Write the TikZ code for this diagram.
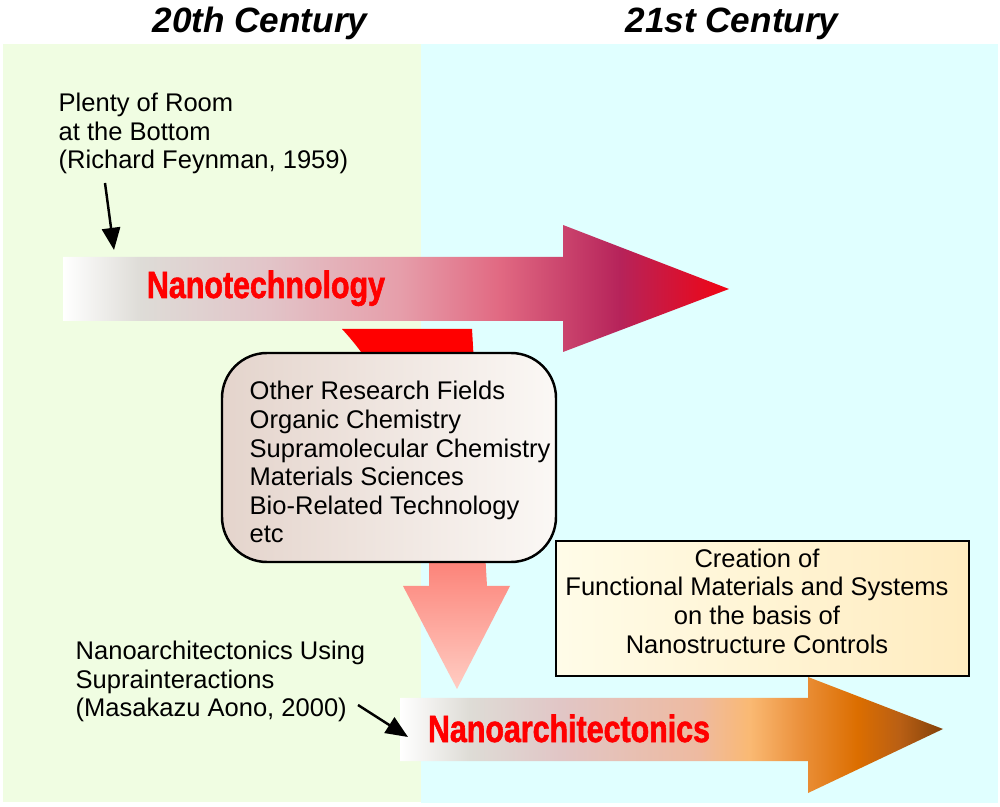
\documentclass[tikz,border=0pt]{standalone}
\usepackage{fontspec}
\setmainfont{Liberation Sans}
\newfontfamily\wordfont[FakeStretch=0.8, FakeBold=1.5]{Liberation Sans Bold}
\usetikzlibrary{arrows.meta}

\definecolor{bggreen}{RGB}{240,253,226}
\definecolor{bgcyan}{RGB}{224,255,255}
\definecolor{wordred}{RGB}{255,0,0}

% top arrow colours
\definecolor{tgray}{RGB}{222,220,215}
\definecolor{tpinkgray}{RGB}{226,196,200}
\definecolor{tpink}{RGB}{230,158,170}
\definecolor{trose}{RGB}{225,105,130}
\definecolor{tmagenta}{RGB}{182,35,90}
\definecolor{tred}{RGB}{242,4,18}
\pgfdeclarehorizontalshading{nanotechshade}{100bp}{color(0bp)=(white); color(25bp)=(white); color(30.8bp)=(tgray); color(40.5bp)=(tpinkgray); color(50.3bp)=(tpink); color(57.8bp)=(trose); color(66.8bp)=(tmagenta); color(75bp)=(tred); color(100bp)=(tred)}

% bottom arrow colours
\definecolor{bgray}{RGB}{222,220,214}
\definecolor{bpinkgray}{RGB}{225,198,198}
\definecolor{bpeach}{RGB}{238,186,160}
\definecolor{blightorange}{RGB}{250,185,115}
\definecolor{bmidorange}{RGB}{235,145,60}
\definecolor{borange}{RGB}{220,110,0}
\definecolor{bdarkorange}{RGB}{185,95,20}
\definecolor{bbrown}{RGB}{130,65,10}
\pgfdeclarehorizontalshading{nanoarchshade}{100bp}{color(0bp)=(white); color(25bp)=(white); color(31.4bp)=(bgray); color(39.7bp)=(bpinkgray); color(52.6bp)=(bpeach); color(57.2bp)=(blightorange); color(61.8bp)=(bmidorange); color(67.1bp)=(borange); color(71bp)=(bdarkorange); color(75bp)=(bbrown); color(100bp)=(bbrown)}

% down arrow colours
\definecolor{dlight}{RGB}{255,205,195}
\definecolor{dsalmon}{RGB}{252,132,122}
\pgfdeclareverticalshading{downshade}{100bp}{color(0bp)=(dlight); color(25bp)=(dlight); color(42.5bp)=(dsalmon); color(71.8bp)=(red); color(100bp)=(red)}

\definecolor{fieldsdark}{RGB}{228,212,204}
\definecolor{fieldslight}{RGB}{251,248,245}
\definecolor{creationlight}{RGB}{255,252,232}
\definecolor{creationdark}{RGB}{255,236,192}

\tikzset{
  bodytext/.style={font=\fontsize{7.26pt}{8.14pt}\selectfont, inner sep=0pt},
  centurytext/.style={font=\fontsize{10pt}{12pt}\selectfont\bfseries\itshape, inner sep=0pt},
  bigword/.style={font=\fontsize{10.8pt}{12pt}\selectfont\wordfont, text=wordred, inner sep=0pt},
  pointer/.style={line width=0.7pt, -{Triangle[length=6.3pt,width=5.2pt]}}
}

\begin{document}
\begin{tikzpicture}[x=0.01cm, y=-0.01cm]

\useasboundingbox (0,0) rectangle (1000,807);

% the two centuries
\fill[bggreen] (3,44) rectangle (421,802);
\fill[bgcyan] (421,44) rectangle (998,803);

\node[centurytext, anchor=base] (t20) at (260,33) {20th Century};
\node[centurytext, anchor=base] (t21) at (732,33) {21st Century};

% Nanotechnology arrow
\shade[shading=nanotechshade] (63,257) -- (563,257) -- (563,225) -- (729,289)
  -- (563,352) -- (563,321) -- (63,321) -- cycle;

% down arrow, behind the box
\shade[shading=downshade] (342,329) -- (472,329) -- (487,586) -- (510,586)
  -- (457,689) -- (403,586) -- (429,586) -- (429,563)
  .. controls (429,450) and (380,370) .. (342,329) -- cycle;

% Nanoarchitectonics arrow
\shade[shading=nanoarchshade] (400,698) -- (808,698) -- (808,677) -- (943,729)
  -- (808,793) -- (808,761) -- (400,761) -- cycle;

% boxes
\draw[line width=0.7pt, rounded corners=4.5mm, left color=fieldsdark, right color=fieldslight]
  (222,353) rectangle (556,562);
\draw[line width=0.7pt, left color=creationlight, right color=creationdark]
  (556,541) rectangle (969,676);

% (base of a multi-line node = last line)
\node[bodytext, anchor=base west, align=left] (fields) at (249,543)
  {Other Research Fields\\Organic Chemistry\\Supramolecular Chemistry\\Materials Sciences\\Bio-Related Technology\\etc};

\node[bodytext, anchor=base, align=center] (creation) at (757,653)
  {Creation of\\Functional Materials and Systems\\on the basis of\\Nanostructure Controls};

% labels and pointers
\node[bodytext, anchor=base west, align=left] (feyn) at (58,169)
  {Plenty of Room\\at the Bottom\\(Richard Feynman, 1959)};
\coordinate (feyn tail) at (105,183);
\coordinate (feyn tip) at (114,250);
\draw[pointer] (feyn tail) -- (feyn tip);

\node[bodytext, anchor=base west, align=left] (aono) at (75,717)
  {Nanoarchitectonics Using\\Suprainteractions\\(Masakazu Aono, 2000)};
\coordinate (aono tail) at (358,705);
\coordinate (aono tip) at (408,737);
\draw[pointer] (aono tail) -- (aono tip);

\node[bigword, anchor=base] (nanotech) at (266,298) {Nanotechnology};
\node[bigword, anchor=base] (nanoarch) at (569,742) {Nanoarchitectonics};

\end{tikzpicture}
\end{document}
